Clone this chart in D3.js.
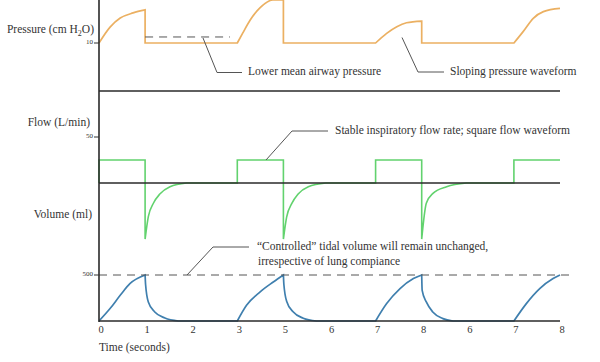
<!DOCTYPE html>
<html>
<head>
<meta charset="utf-8">
<script src="https://cdn.jsdelivr.net/npm/d3@7"></script>
<style>
  body { margin: 0; background: #fff; }
  text { font-family: "Liberation Serif", "DejaVu Serif", serif; fill: #333; }
</style>
</head>
<body>
<script>
// x ticks as printed on the original (index positions, labels are not monotonic)
const tickLabels = ["0", "1", "2", "3", "5", "6", "7", "8", "6", "7", "8"];

// pressure (cm H2O): inspiratory rises, each ends with a drop back to PEEP
const peep = 10;
const pressureRises = [
  [[0, 10], [0.24, 17.4], [0.46, 21.6], [0.74, 24], [1, 25.4]],
  [[3, 10], [3.12, 14.7], [3.28, 20.7], [3.49, 26.3], [3.77, 30], [4, 30]],
  [[6, 10], [6.24, 14.5], [6.46, 17.6], [6.67, 19.4], [7, 20.2]],
  [[9, 10], [9.2, 15.3], [9.42, 21.5], [9.64, 24.6], [10, 26.1]]
];
const meanPressure = [[1, 12.8], [2.84, 12.8]];

// flow (L/min): square inspiration, exponential expiratory spike
const flowLevel = 25;
const flowSquares = [[0, 1], [3, 4], [6, 7], [9, 10]];
const flowDecays = [
  [[1, -61], [1.07, -36.6], [1.18, -22], [1.32, -12], [1.54, -4], [1.9, 0]],
  [[4, -61], [4.07, -37], [4.18, -22.5], [4.32, -12], [4.54, -4], [4.92, 0]],
  [[7, -61], [7.1, -22], [7.25, -11], [7.54, -4], [7.97, 0]]
];

// volume (ml)
const tidalVolume = 500;
const volumeRises = [
  [[0, 0], [0.24, 135], [0.46, 279], [0.67, 406], [1, 500]],
  [[3, 0], [3.2, 171], [3.49, 315], [3.78, 424], [4, 500]],
  [[6, 0], [6.24, 189], [6.53, 352], [6.82, 461], [7, 500]],
  [[9, 0], [9.27, 189], [9.56, 352], [9.85, 461], [10, 500]]
];
const volumeDecays = [
  [[1, 500], [1.01, 400], [1.07, 207], [1.21, 98], [1.43, 33], [1.72, 0]],
  [[4, 500], [4.01, 400], [4.07, 215], [4.21, 100], [4.43, 30], [4.72, 0]],
  [[7, 500], [7.01, 333], [7.1, 207], [7.24, 98], [7.46, 26], [7.68, 0]]
];

const width = 600, height = 362;
const svg = d3.select("body").append("svg")
  .attr("width", width).attr("height", height);

const x = d3.scaleLinear().domain([0, 10]).range([99, 560]);
const yP = d3.scaleLinear().domain([10, 30]).range([43, 0]);
const yF = d3.scaleLinear().domain([0, 50]).range([183, 137]);
const yV = d3.scaleLinear().domain([0, 500]).range([321, 275]);

const smooth = y => d3.line().x(d => x(d[0])).y(d => y(d[1])).curve(d3.curveMonotoneX);
const straight = y => d3.line().x(d => x(d[0])).y(d => y(d[1]));

// join pieces into one path, continuing with L instead of a new M
function joinPieces(pieces) {
  return pieces.map((p, i) => {
    const s = p.gen(p.pts);
    return i ? s.replace(/^M/, "L") : s;
  }).join("");
}

// ---- pressure
let pieces = [];
pressureRises.forEach((r, i) => {
  if (i > 0) {
    const prev = pressureRises[i - 1][pressureRises[i - 1].length - 1];
    pieces.push({gen: straight(yP), pts: [prev, [prev[0], peep], [r[0][0], peep]]});
  }
  pieces.push({gen: smooth(yP), pts: r});
});
svg.append("path").attr("d", joinPieces(pieces))
  .attr("fill", "none").attr("stroke", "#ebb062").attr("stroke-width", 1.7);

svg.append("path").attr("d", straight(yP)(meanPressure))
  .attr("fill", "none").attr("stroke", "#555").attr("stroke-width", 1)
  .attr("stroke-dasharray", "8,6");

// ---- flow
pieces = [];
flowSquares.forEach(([t0, t1], i) => {
  const sq = [[t0, 0], [t0, flowLevel], [t1, flowLevel]];
  if (flowDecays[i]) sq.push(flowDecays[i][0]);
  pieces.push({gen: straight(yF), pts: sq});
  if (flowDecays[i]) {
    pieces.push({gen: smooth(yF), pts: flowDecays[i]});
    const end = flowDecays[i][flowDecays[i].length - 1];
    pieces.push({gen: straight(yF), pts: [end, [flowSquares[i + 1][0], 0]]});
  }
});
svg.append("path").attr("d", joinPieces(pieces))
  .attr("fill", "none").attr("stroke", "#62d26e").attr("stroke-width", 1.6);

// ---- volume
pieces = [];
volumeRises.forEach((r, i) => {
  pieces.push({gen: smooth(yV), pts: r});
  if (volumeDecays[i]) {
    pieces.push({gen: smooth(yV), pts: volumeDecays[i]});
    const end = volumeDecays[i][volumeDecays[i].length - 1];
    pieces.push({gen: straight(yV), pts: [end, volumeRises[i + 1][0]]});
  }
});
svg.append("path").attr("d", joinPieces(pieces))
  .attr("fill", "none").attr("stroke", "#3f7fae").attr("stroke-width", 1.7);

svg.append("line")
  .attr("x1", x(0)).attr("x2", x(10.26))
  .attr("y1", yV(tidalVolume)).attr("y2", yV(tidalVolume))
  .attr("stroke", "#555").attr("stroke-width", 1).attr("stroke-dasharray", "8,6");

// ---- frame lines
const frame = svg.append("g").attr("stroke", "#2a2a2a").attr("stroke-width", 1.6);
frame.append("line").attr("x1", x(0)).attr("x2", x(0)).attr("y1", 0).attr("y2", yV(0) + 1);
frame.append("line").attr("x1", x(0)).attr("x2", x(10)).attr("y1", 91).attr("y2", 91);
frame.append("line").attr("x1", x(0)).attr("x2", x(10)).attr("y1", yF(0)).attr("y2", yF(0));
frame.append("line").attr("x1", x(0)).attr("x2", x(10)).attr("y1", yV(0)).attr("y2", yV(0));

// small value ticks
const smallTicks = [[yP, 10], [yF, 50], [yV, 500]];
smallTicks.forEach(([s, v]) => {
  svg.append("line").attr("x1", x(0) - 5).attr("x2", x(0)).attr("y1", s(v)).attr("y2", s(v))
    .attr("stroke", "#333").attr("stroke-width", 1);
  svg.append("text").attr("x", x(0) - 6).attr("y", s(v) + 1)
    .attr("text-anchor", "end").attr("font-size", 7).text(v);
});

// x tick labels
svg.append("g").selectAll("text").data(tickLabels).join("text")
  .attr("x", (d, i) => x(i) + 2).attr("y", 333)
  .attr("text-anchor", "middle").attr("font-size", 10.5).text(d => d);

// panel labels
const p = svg.append("text").attr("x", 94).attr("y", 33).attr("text-anchor", "end").attr("font-size", 11.5);
p.append("tspan").text("Pressure (cm H");
p.append("tspan").attr("font-size", 8).attr("dy", 3).text("2");
p.append("tspan").attr("dy", -3).text("O)");
svg.append("text").attr("x", 90).attr("y", 126).attr("text-anchor", "end").attr("font-size", 11.5).text("Flow (L/min)");
svg.append("text").attr("x", 92).attr("y", 218).attr("text-anchor", "end").attr("font-size", 11.5).text("Volume (ml)");
svg.append("text").attr("x", 99).attr("y", 351).attr("font-size", 11.5).text("Time (seconds)");

// ---- callouts
const callouts = [
  {pts: [[203, 38], [217, 72.5], [242, 72.5]], tx: 248, ty: 72.5, lines: ["Lower mean airway pressure"]},
  {pts: [[402, 37.5], [418, 72], [444, 72]], tx: 450, ty: 72, lines: ["Sloping pressure waveform"]},
  {pts: [[266, 160], [292, 131], [328, 131]], tx: 335, ty: 131.5, lines: ["Stable inspiratory flow rate; square flow waveform"]},
  {pts: [[187, 275], [213, 247], [249, 247]], tx: 257, ty: 247.5,
   lines: ["\u201cControlled\u201d tidal volume will remain unchanged,", "irrespective of lung compiance"]}
];
callouts.forEach(c => {
  svg.append("path").attr("d", d3.line()(c.pts))
    .attr("fill", "none").attr("stroke", "#555").attr("stroke-width", 1);
  c.lines.forEach((l, i) => {
    svg.append("text").attr("x", c.tx + (i ? 1 : 0)).attr("y", c.ty + i * 15)
      .attr("dominant-baseline", "middle").attr("font-size", 11.5).text(l);
  });
});
</script>
</body>
</html>
